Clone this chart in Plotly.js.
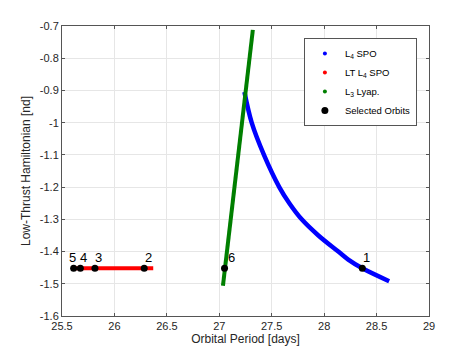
<!DOCTYPE html>
<html><head><meta charset="utf-8">
<script src="https://cdn.plot.ly/plotly-3.0.1.min.js"></script>
<style>html,body{margin:0;padding:0;background:#fff}#c{width:474px;height:355px}</style>
</head><body><div id="c"></div>
<script>
const l4Period = [27.24, 27.309, 27.426, 27.572, 27.668, 27.786, 27.945, 28.135, 28.23, 28.364, 28.62];
const l4H      = [-0.905, -1.00, -1.10, -1.20, -1.25, -1.30, -1.35, -1.40, -1.425, -1.452, -1.492];
const ltPeriod = [25.61, 26.37];
const ltH      = [-1.452, -1.452];
const l3Period = [27.035, 27.32];
const l3H      = [-1.506, -0.712];
const selPeriod = [28.364, 26.284, 25.814, 25.675, 25.611, 27.05];
const selH      = [-1.452, -1.452, -1.452, -1.452, -1.452, -1.452];
const selLabels = ['1', '2', '3', '4', '5', '6'];
const labelShift = [4, 4, 4, 3, -1, 7];
const xTicks = [25.5, 26, 26.5, 27, 27.5, 28, 28.5, 29];
const xTickText = ['25.5', '26', '26.5', '27', '27.5', '28', '28.5', '29'];
const yTicks = [-0.7, -0.8, -0.9, -1, -1.1, -1.2, -1.3, -1.4, -1.5, -1.6];
const yTickText = ['-0.7', '-0.8', '-0.9', '-1', '-1.1', '-1.2', '-1.3', '-1.4', '-1.5', '-1.6'];

const font = 'Liberation Sans, Arial, sans-serif';
const traces = [
  {x: l4Period, y: l4H, mode: 'lines', line: {color: '#0000ff', width: 4.5, shape: 'spline', smoothing: 1}, showlegend: false},
  {x: ltPeriod, y: ltH, mode: 'lines', line: {color: '#ff0000', width: 4}, showlegend: false},
  {x: l3Period, y: l3H, mode: 'lines', line: {color: '#007f00', width: 4}, showlegend: false},
  {x: selPeriod, y: selH, mode: 'markers', marker: {color: '#000', size: 7}, showlegend: false},
  {x: [null], y: [null], mode: 'markers', marker: {color: '#0000ff', size: 4}, name: 'L<sub>4</sub> SPO'},
  {x: [null], y: [null], mode: 'markers', marker: {color: '#ff0000', size: 4}, name: 'LT L<sub>4</sub> SPO'},
  {x: [null], y: [null], mode: 'markers', marker: {color: '#007f00', size: 4}, name: 'L<sub>3</sub> Lyap.'},
  {x: [null], y: [null], mode: 'markers', marker: {color: '#000', size: 7}, name: 'Selected Orbits'}
];
const annotations = selLabels.map((t, i) => ({
  x: selPeriod[i], y: selH[i], text: t, showarrow: false,
  xref: 'x', yref: 'y', yanchor: 'bottom', yshift: 1, xshift: labelShift[i],
  font: {family: font, size: 13, color: '#000'}
}));
const axisCommon = {
  showgrid: true, gridcolor: '#e6e6e6', gridwidth: 1, zeroline: false,
  showline: true, linecolor: '#555', linewidth: 1, mirror: 'ticks',
  ticks: 'inside', ticklen: 3, tickcolor: '#555',
  tickfont: {family: font, size: 11, color: '#262626'}
};
const layout = {
  width: 474, height: 355,
  margin: {l: 62, r: 45, t: 26, b: 39},
  paper_bgcolor: '#fff', plot_bgcolor: '#fff',
  font: {family: font, color: '#262626'},
  xaxis: Object.assign({}, axisCommon, {
    range: [25.5, 29], tickvals: xTicks, ticktext: xTickText,
    title: {text: 'Orbital Period [days]', font: {family: font, size: 12, color: '#262626'}, standoff: 3}
  }),
  yaxis: Object.assign({}, axisCommon, {
    range: [-1.6, -0.7], tickvals: yTicks, ticktext: yTickText,
    title: {text: 'Low-Thrust Hamiltonian [nd]', font: {family: font, size: 12, color: '#262626'}, standoff: 6}
  }),
  legend: {
    x: 0.967, y: 0.959, xanchor: 'right', yanchor: 'top',
    bgcolor: '#fff', bordercolor: '#555', borderwidth: 1,
    font: {family: font, size: 9.5, color: '#000'}, tracegroupgap: 0, itemwidth: 30
  },
  annotations: annotations,
  showlegend: true
};
Plotly.newPlot('c', traces, layout, {displayModeBar: false, staticPlot: true});
</script></body></html>
